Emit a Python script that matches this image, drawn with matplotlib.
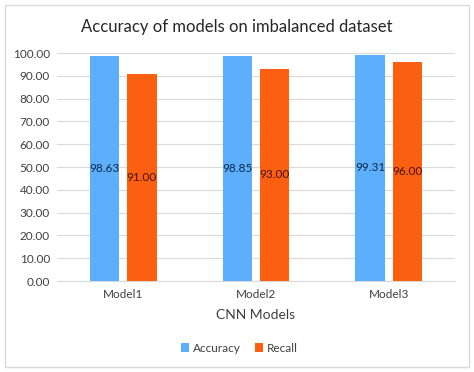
import numpy as np
import matplotlib
matplotlib.use("Agg")
import matplotlib.pyplot as plt
from matplotlib.patches import Rectangle

models = ["Model1", "Model2", "Model3"]
accuracy = [98.63, 98.85, 99.31]
recall = [91.00, 93.00, 96.00]

plt.rcParams['font.family'] = ['Lato', 'DejaVu Sans']

fig = plt.figure(figsize=(4.74, 3.72), dpi=100, facecolor='w')
# outer chart border
fig.patches.append(Rectangle((5/474, 5/372), 464/474, 362/372, transform=fig.transFigure,
                             fill=False, edgecolor='#D9D9D9', linewidth=1))

ax = fig.add_axes([57/474, 1 - 281/372, 398/474, 228/372])
x = np.arange(len(models))
w = 0.222
b1 = ax.bar(x - 0.14, accuracy, w, color='#5DAEFB', label='Accuracy', zorder=3)
b2 = ax.bar(x + 0.14, recall, w, color='#FB5F12', label='Recall', zorder=3)

for rect, v in zip(b1, accuracy):
    ax.text(rect.get_x() + rect.get_width() / 2, v / 2, f"{v:.2f}",
            ha='center', va='center', fontsize=8.5, color='#0D2A4A', zorder=4)
for rect, v in zip(b2, recall):
    ax.text(rect.get_x() + rect.get_width() / 2, v / 2, f"{v:.2f}",
            ha='center', va='center', fontsize=8.5, color='#4A1200', zorder=4)

ax.set_xlim(-0.5, 2.5)
ax.set_ylim(0, 100)
ax.set_yticks(np.arange(0, 101, 10))
ax.set_yticklabels([f"{t:.2f}" for t in np.arange(0, 101, 10)])
ax.set_xticks(x)
ax.set_xticklabels(models)
ax.tick_params(axis='both', length=0, labelsize=8.5, colors='#404040')
ax.tick_params(axis='x', pad=6)
ax.tick_params(axis='y', pad=5)
ax.grid(axis='y', color='#D9D9D9', linewidth=0.8, zorder=0)
for s in ['top', 'right', 'left']:
    ax.spines[s].set_visible(False)
ax.spines['bottom'].set_color('#D9D9D9')

ax.set_xlabel("CNN Models", fontsize=10, color='#404040', labelpad=6)
fig.text(0.5, 1 - 27/372, "Accuracy of models on imbalanced dataset",
         ha='center', va='center', fontsize=12, color='#262626')

fig.legend(handles=[b1, b2], loc='center', bbox_to_anchor=(0.505, 1 - 348/372),
           ncol=2, frameon=False, fontsize=8.5, handlelength=0.7, handleheight=0.7,
           handletextpad=0.3, columnspacing=1.2, labelcolor='#404040')

fig.savefig("out.png", dpi=100)
